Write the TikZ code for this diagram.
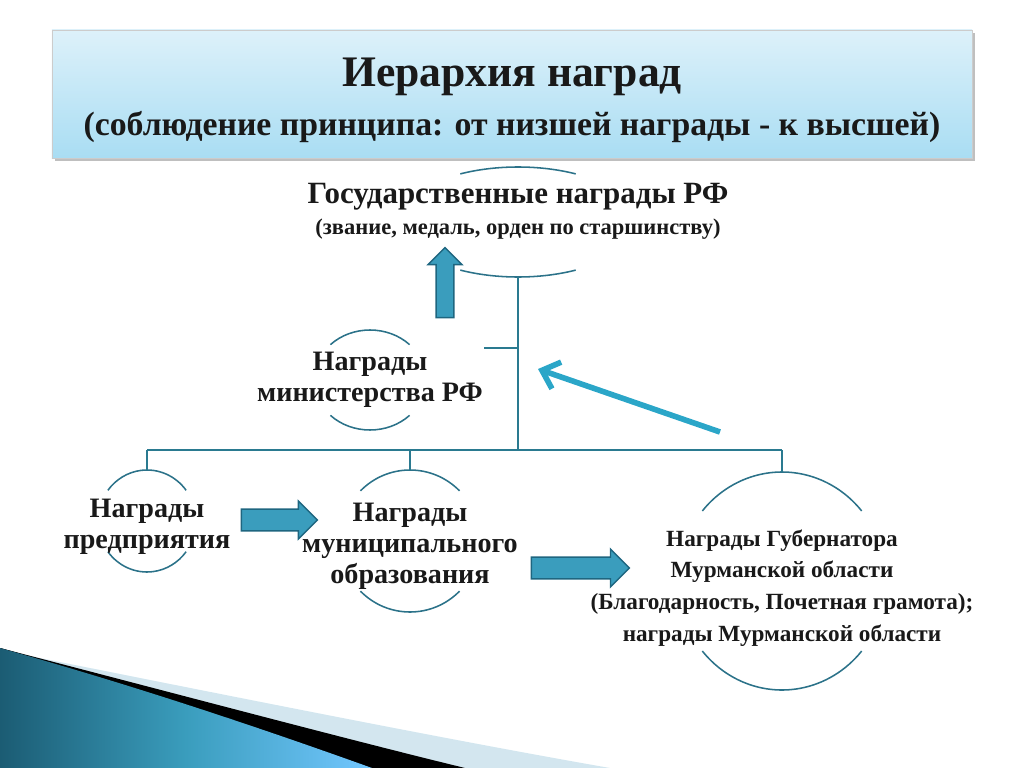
\documentclass[tikz,border=0pt]{standalone}
\usepackage{fontspec}
\setmainfont{Liberation Serif}
\usetikzlibrary{shapes,arrows,arrows.meta,positioning,shadows}

\definecolor{arcteal}{HTML}{2B7289}
\definecolor{linkteal}{HTML}{2A7A90}
\definecolor{arrowfill}{HTML}{3A9DBD}
\definecolor{arrowedge}{HTML}{1E6680}
\definecolor{cyanarrow}{HTML}{2BA6C8}
\definecolor{titletop}{HTML}{DDF1FA}
\definecolor{titlemid}{HTML}{A9DDF3}
\definecolor{paleband}{HTML}{D3E6EF}

% ellipse arcs above and below a centre
\newcommand{\awardarcs}[6]{%
  \coordinate (#1) at (#2,#3);
  \draw[Arc] (#1) ++({#6}:{#4*0.025cm} and {#5*0.025cm})
    arc[start angle=#6, end angle=180-#6, x radius=#4*0.025cm, y radius=#5*0.025cm];
  \draw[Arc] (#1) ++({180+#6}:{#4*0.025cm} and {#5*0.025cm})
    arc[start angle=180+#6, end angle=360-#6, x radius=#4*0.025cm, y radius=#5*0.025cm];
}

\begin{document}
\begin{tikzpicture}[x=0.025cm, y=-0.025cm]
	\tikzstyle{Arc}		= [draw=arcteal, line width=1.1pt]
	\tikzstyle{Link}	= [draw=linkteal, line width=1.3pt]
	\tikzstyle{Label}	= [align=center, text=black!90, inner sep=0pt]
	\tikzstyle{Block}	= [single arrow, draw=arrowedge, fill=arrowfill, line width=1pt,
	                       single arrow head extend=0.2cm, inner sep=0pt, minimum width=0.95cm]

	\useasboundingbox (0,0) rectangle (1024,768);

	% bottom-left decoration
	\fill[paleband] (0,650) .. controls (250,700) and (450,740) .. (610,768) -- (0,768) -- cycle;
	\fill[black] (0,648) .. controls (200,700) and (350,740) .. (465,768) -- (0,768) -- cycle;
	\fill[left color=arrowedge!90!black, right color=cyan!60!blue!55, middle color=arrowfill]
		(0,648) .. controls (150,690) and (280,735) .. (372,768) -- (0,768) -- cycle;

	% title
	\node (title) [draw=gray!40, drop shadow, top color=titletop, bottom color=titlemid,
		minimum width=23cm, minimum height=3.2cm, inner sep=0pt]
		at (512,94) {};
	\node[Label, font=\fontsize{31}{36}\selectfont\bfseries] at (512,77) {Иерархия наград};
	\node[Label, font=\fontsize{24}{28}\selectfont\bfseries] at (512,127) {(соблюдение принципа: от низшей награды - к высшей)};

	% award nodes
	\awardarcs{state}{518}{222}{119}{55}{61}
	\node[Label, font=\fontsize{22}{26}\selectfont\bfseries] at (518,197) {Государственные награды РФ};
	\node[Label, font=\fontsize{16}{19}\selectfont\bfseries] at (518,229) {(звание, медаль, орден по старшинству)};

	\awardarcs{ministry}{370}{380}{56}{50}{45}
	\node[Label, font=\fontsize{20}{22}\selectfont\bfseries] at (370,380) {Награды\\министерства РФ};

	\awardarcs{company}{147}{521}{49}{51}{37}
	\node[Label, font=\fontsize{20}{22}\selectfont\bfseries] at (147,527) {Награды\\предприятия};

	\awardarcs{municipal}{410}{541}{70}{71}{45}
	\node[Label, font=\fontsize{20}{22}\selectfont\bfseries] at (410,546) {Награды\\муниципального\\образования};

	\awardarcs{governor}{782}{581}{104}{109}{40}
	\node[Label, font=\fontsize{16.5}{22.5}\selectfont\bfseries] at (782,588)
		{Награды Губернатора\\Мурманской области\\(Благодарность, Почетная грамота);\\награды Мурманской области};

	% connectors
	\coordinate (stem) at (518,277);
	\coordinate (mjoin) at (518,348);
	\coordinate (hub) at (518,450);
	\coordinate (mleft) at (484,348);
	\coordinate (hleft) at (147,450);
	\coordinate (hright) at (782,450);
	\coordinate (cdrop) at (147,470);
	\coordinate (mdrop) at (410,470);
	\coordinate (gdrop) at (782,472);
	\coordinate (hmid) at (410,450);
	\draw[Link] (stem) -- (hub);
	\draw[Link] (mleft) -- (mjoin);
	\draw[Link] (hleft) -- (hright);
	\draw[Link] (hleft) -- (cdrop);
	\draw[Link] (hmid) -- (mdrop);
	\draw[Link] (hright) -- (gdrop);

	% block arrows
	\node (up) [Block, rotate=90, minimum height=1.75cm, inner ysep=0.2cm, minimum width=0.85cm] at (445,287) {};
	\node (toMun) [Block, minimum height=1.9cm, inner ysep=0.25cm] at (274,520) {};
	\node (toGov) [Block, minimum height=2.45cm, inner ysep=0.25cm] at (575,568) {};

	% thin arrow
	\coordinate (aFrom) at (720,432);
	\coordinate (aTo) at (538,369);
	\draw[cyanarrow, line width=4pt, -{Straight Barb[length=11pt, width=20pt]}] (aFrom) -- (aTo);
\end{tikzpicture}
\end{document}
